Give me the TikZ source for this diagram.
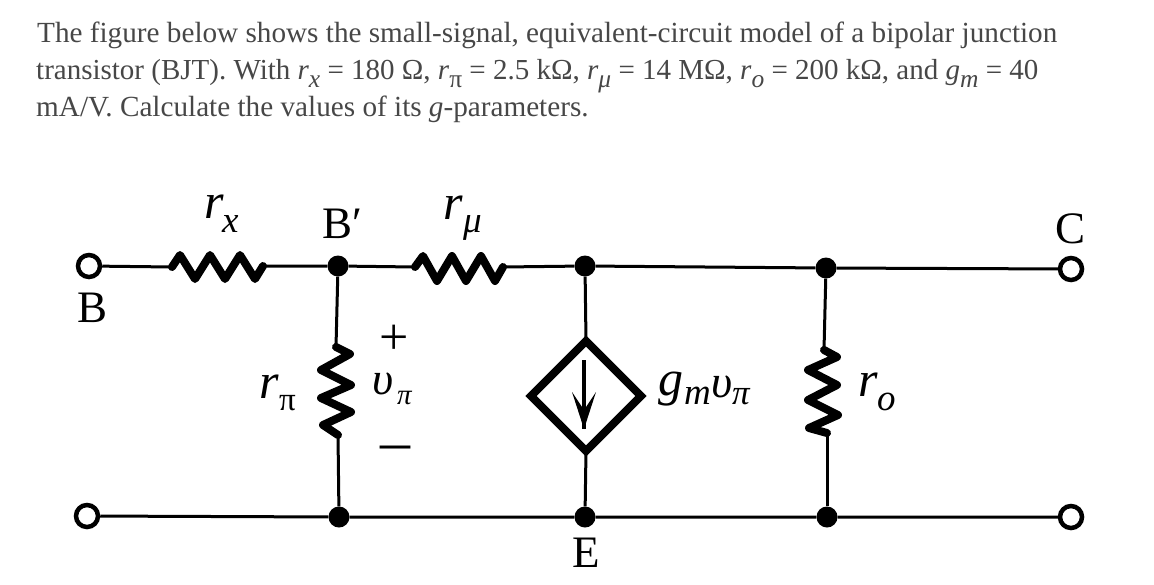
\documentclass[tikz,border=0pt]{standalone}
\usepackage{fontspec}
\setmainfont{Liberation Serif}
\newcommand{\sbi}[1]{\raisebox{-0.3em}{\fontsize{25.5}{27}\selectfont\textit{#1}}}
\newcommand{\sbu}[1]{\raisebox{-0.3em}{\fontsize{25.5}{27}\selectfont #1}}
\definecolor{txtgray}{HTML}{474747}
\tikzset{
  x=1pt,y=-1pt,
  para/.style={anchor=base west,inner sep=0pt,text=txtgray,font=\fontsize{29.2}{29}\selectfont},
  lbl/.style={inner sep=0pt,anchor=base west,text=black},
  bigl/.style={lbl,font=\fontsize{50}{50}\selectfont\itshape},
  subl/.style={lbl,font=\fontsize{37}{37}\selectfont\itshape},
  voltl/.style={lbl,font=\fontsize{46}{46}\selectfont\itshape},
  capl/.style={lbl,font=\fontsize{45}{45}\selectfont},
  wire/.style={draw=black,line width=3pt},
  res/.style={draw=black,line width=8pt,line join=round,line cap=round},
  jdot/.style={circle,fill=black,draw=none,minimum size=21pt,inner sep=0pt},
  term/.style={circle,fill=white,draw=black,line width=4.5pt,minimum size=22pt,inner sep=0pt},
}
\begin{document}
\begin{tikzpicture}
\useasboundingbox (0,0) rectangle (1154,584);
\fill[white] (0,0) rectangle (1154,584);
% paragraph
\node[para] (l1) at (37,42) {The figure below shows the small-signal, equivalent-circuit model of a bipolar junction};
\node[para,font=\fontsize{29}{29}\selectfont] (l2) at (36,79) {transistor (BJT). With \textit{r}\sbi{x} = 180 Ω, \textit{r}\sbu{π} = 2.5 kΩ, \textit{r}\sbi{μ} = 14 MΩ, \textit{r}\sbi{o} = 200 kΩ, and \textit{g}\sbi{m} = 40};
\node[para] (l3) at (36,116) {mA/V. Calculate the values of its \textit{g}-parameters.};
% terminals and junctions
\coordinate (rxa) at (172,267); \coordinate (rxb) at (263,266);
\coordinate (rma) at (415,267); \coordinate (rmb) at (503,267);
\coordinate (rpa) at (336,347); \coordinate (rpb) at (338,435);
\coordinate (roa) at (824,350); \coordinate (rob) at (827,433);
\coordinate (dt) at (586,341); \coordinate (db) at (586,451);
\coordinate (dl) at (531,396); \coordinate (dr) at (641,396);
\coordinate (atop) at (584,360); \coordinate (atip) at (584,429);
\node[term] (B) at (89,266) {};
\node[term] (G) at (87,516) {};
\node[term] (C) at (1071,269) {};
\node[term] (Eo) at (1071,517) {};
\node[jdot] (Bp) at (338,266) {};
\node[jdot] (Ct) at (585,266) {};
\node[jdot] (Rt) at (826,268) {};
\node[jdot] (Pb) at (339,517) {};
\node[jdot] (Eb) at (585,517) {};
\node[jdot] (Rb) at (827,517) {};
% wires
\draw[wire] (B) -- (rxa);
\draw[wire] (rxb) -- (Bp) -- (rma);
\draw[wire] (rmb) -- (Ct) -- (Rt);
\draw[wire] (Rt) -- (C);
\draw[wire] (G) -- (Pb) -- (Eb) -- (Rb) -- (Eo);
\draw[wire] (Bp) -- (rpa);
\draw[wire] (rpb) -- (Pb);
\draw[wire] (Ct) -- (dt);
\draw[wire] (db) -- (Eb);
\draw[wire] (Rt) -- (roa);
\draw[wire] (rob) -- (Rb);
% resistors
\draw[res] (rxa) -- (180,255) -- (195,279) -- (210,255) -- (225,279) -- (240,255) -- (255,279) -- (rxb);
\draw[res] (rma) -- (423,256) -- (437,281) -- (452,256) -- (466,281) -- (481,256) -- (495,281) -- (rmb);
\draw[res] (rpa) -- (350,354) -- (321,370) -- (351,385) -- (321,398) -- (351,412) -- (323,425) -- (rpb);
\draw[res] (roa) -- (837,357) -- (808,370) -- (837,385) -- (808,400) -- (838,415) -- (809,428) -- (rob);
% controlled source
\draw[draw=black,line width=8pt,miter limit=10] (dt) -- (dr) -- (db) -- (dl) -- cycle;
\draw[draw=black,line width=4pt] (atop) -- (atip);
\fill[black] (atip) -- (572,392) -- (584,410) -- (596,392) -- cycle;
% labels
\node[bigl] (lrx) at (204,218) {r};
\node[subl] (lx) at (222,232) {x};
\node[capl] (lBp) at (322,238) {B′};
\node[bigl] (lrm) at (443,219) {r};
\node[subl] (lm) at (463,232) {μ};
\node[capl] (lC) at (1055,243) {C};
\node[capl] (lB) at (77,322) {B};
\node[capl] (lE) at (572,567) {E};
\node[bigl] (lrp) at (259,398) {r};
\node[lbl,font=\fontsize{33}{33}\selectfont] (lp) at (279,410) {π};
\node[lbl,anchor=center,font=\fontsize{52}{52}\selectfont] (lplus) at (394,340) {+};
\node[voltl] (lv) at (372,394) {υ};
\node[lbl,font=\fontsize{29}{29}\selectfont\itshape] (lvp) at (397,404) {π};
\node[lbl,font=\fontsize{60}{60}\selectfont] (lminus) at (380,461) {–};
\node[bigl] (lg) at (658,395) {g};
\node[subl] (lgm) at (684,404) {m};
\node[voltl] (lgv) at (711,397) {υ};
\node[lbl,font=\fontsize{35}{35}\selectfont\itshape] (lgp) at (732,404) {π};
\node[bigl] (lro) at (858,396) {r};
\node[subl] (lo) at (877,410) {o};
\end{tikzpicture}
\end{document}
